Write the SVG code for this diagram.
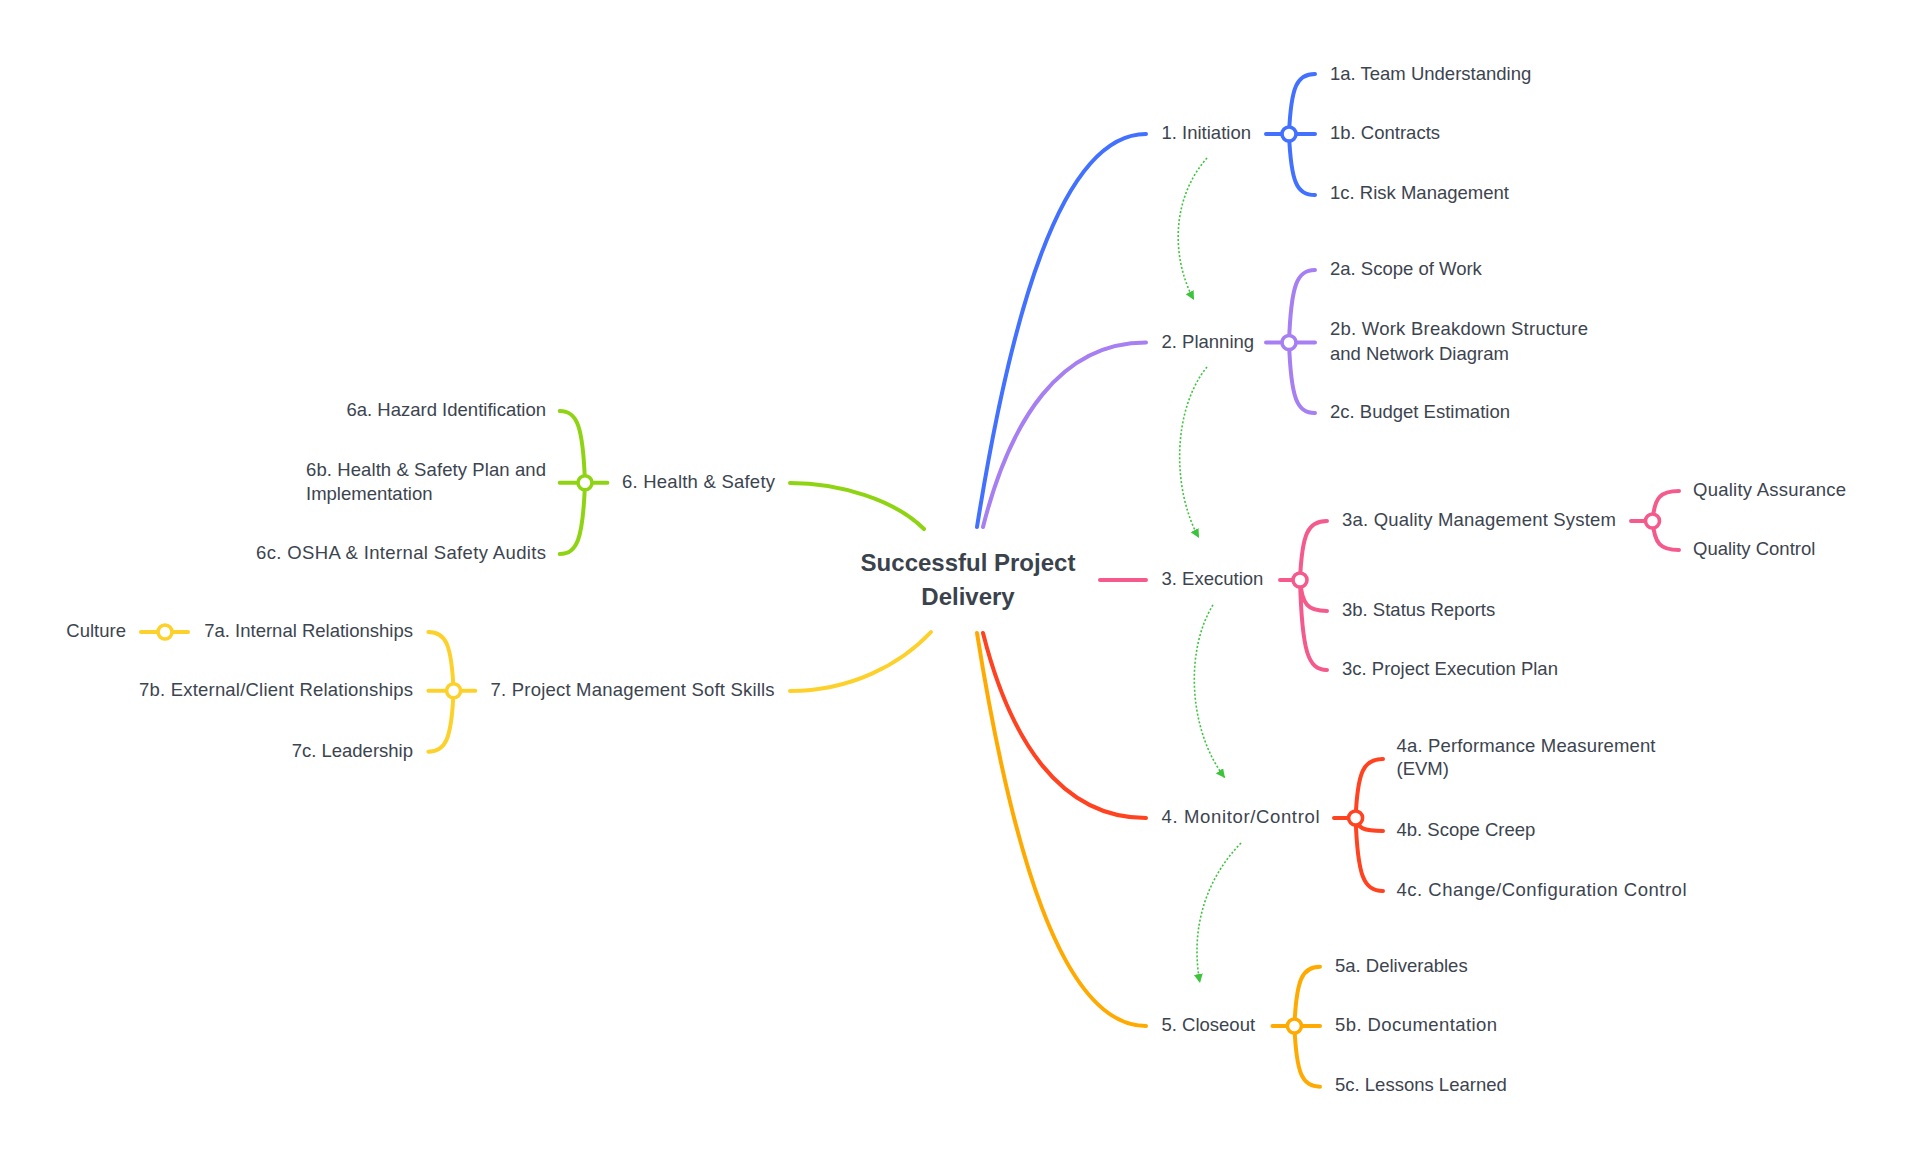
<svg xmlns="http://www.w3.org/2000/svg" width="1911" height="1162" viewBox="0 0 1911 1162">
<defs>
<style>
text{font-family:"Liberation Sans",Arial,sans-serif;font-size:18.5px;fill:#3c444f}
.title{font-size:24px;font-weight:bold;fill:#3a424c}
.r{text-anchor:end}
.c{fill:none;stroke-width:4;stroke-linecap:round}
.dot{fill:#fff;stroke-width:3.6}
.rel{fill:none;stroke:#3cc43c;stroke-width:1.6;stroke-dasharray:2 2}
.blue{stroke:#4270ff}.purple{stroke:#a67ff2}.pink{stroke:#f45b8c}.red{stroke:#ff4220}.orange{stroke:#ffaa00}.green{stroke:#8fd413}.yellow{stroke:#fdd12c}
</style>
<marker id="arr" markerUnits="userSpaceOnUse" markerWidth="10" markerHeight="10" refX="9" refY="4.5" orient="auto">
<path d="M0,0 L9,4.5 L0,9 z" fill="#3cc43c"/>
</marker>
</defs>
<rect width="1911" height="1162" fill="#fff"/>
<g id="connectors">
<path class="c blue" d="M977,527 C1010,320 1060,134 1146,134"/>
<path class="c purple" d="M983,527 C1010,420 1060,342.5 1146,342.5"/>
<path class="c pink" d="M1100,580 H1146"/>
<path class="c red" d="M983,633 C1010,740 1060,818 1146,818"/>
<path class="c orange" d="M977,633 C1010,840 1060,1026 1146,1026"/>
<path class="c green" d="M924,529 C895,500 840,483 790,483"/>
<path class="c yellow" d="M931,632 C900,665 850,691 790,691"/>
<path class="c blue" d="M1266,134 H1315 M1289,134 C1291,86 1297,74 1315,74 M1289,134 C1291,183 1297,195 1315,195"/>
<path class="c purple" d="M1266,342.5 H1315 M1289,342.5 C1291,284.5 1297,270 1315,270 M1289,342.5 C1291,399 1297,413 1315,413"/>
<path class="c pink" d="M1280,580 H1300 M1300,580 C1302,533 1308,521 1327,521 M1300,580 C1302,605 1308,611 1327,611 M1300,580 C1302,652 1308,670 1327,670"/>
<path class="c pink" d="M1631,521 H1652.5 M1652.5,521 C1654.5,497 1660.5,491 1679,491 M1652.5,521 C1654.5,544 1660.5,550 1679,550"/>
<path class="c red" d="M1334,818 H1355.6 M1355.6,818 C1357.6,771 1363.6,759 1383,759 M1355.6,818 C1357.6,828.4 1363.6,831 1383,831 M1355.6,818 C1357.6,876 1363.6,891 1383,891"/>
<path class="c orange" d="M1272.5,1026 H1320 M1294.4,1026 C1296.4,978.6 1302.4,966.7 1320,966.7 M1294.4,1026 C1296.4,1074.6 1302.4,1086.7 1320,1086.7"/>
<path class="c green" d="M559.7,482.7 H607.4 M585,482.7 C583,425.3 577,411 559.7,411 M585,482.7 C583,539.7 577,554 559.7,554"/>
<path class="c yellow" d="M428.4,690.7 H475.3 M453.6,690.7 C451.6,643.7 445.6,632 428.4,632 M453.6,690.7 C451.6,739.5 445.6,751.7 428.4,751.7"/>
<path class="c yellow" d="M141,632 H188"/>
<path class="rel" marker-end="url(#arr)" d="M1207,158 C1170,200 1172,260 1194,300"/>
<path class="rel" marker-end="url(#arr)" d="M1207,367 C1172,410 1172,490 1199,538"/>
<path class="rel" marker-end="url(#arr)" d="M1213,605 C1185,650 1188,730 1225,778"/>
<path class="rel" marker-end="url(#arr)" d="M1241,843 C1205,880 1190,930 1200,983"/>
</g>
<g id="center">
<text class="title" x="968" y="571" text-anchor="middle">Successful Project</text>
<text class="title" x="968" y="605" text-anchor="middle">Delivery</text>
</g>
<g id="n1">
<text x="1161.5" y="139">1. Initiation</text>
<circle class="dot blue" cx="1289" cy="134" r="7"/>
</g>
<g id="n1a"><text x="1330" y="79.5">1a. Team Understanding</text></g>
<g id="n1b"><text x="1330" y="139">1b. Contracts</text></g>
<g id="n1c"><text x="1330" y="199">1c. Risk Management</text></g>
<g id="n2">
<text x="1161.5" y="347.5">2. Planning</text>
<circle class="dot purple" cx="1289" cy="342.5" r="7"/>
</g>
<g id="n2a"><text x="1330" y="275">2a. Scope of Work</text></g>
<g id="n2b"><text x="1330" y="335" textLength="258">2b. Work Breakdown Structure</text><text x="1330" y="359.5">and Network Diagram</text></g>
<g id="n2c"><text x="1330" y="418">2c. Budget Estimation</text></g>
<g id="n3">
<text x="1161.5" y="585">3. Execution</text>
<circle class="dot pink" cx="1300" cy="580" r="7"/>
</g>
<g id="n3a">
<text x="1342" y="526" textLength="274">3a. Quality Management System</text>
<circle class="dot pink" cx="1652.5" cy="521" r="7"/>
</g>
<g id="n3a1"><text x="1693" y="496" textLength="153">Quality Assurance</text></g>
<g id="n3a2"><text x="1693" y="555">Quality Control</text></g>
<g id="n3b"><text x="1342" y="615.5">3b. Status Reports</text></g>
<g id="n3c"><text x="1342" y="675">3c. Project Execution Plan</text></g>
<g id="n4">
<text x="1161.5" y="823" textLength="158">4. Monitor/Control</text>
<circle class="dot red" cx="1355.6" cy="818" r="7"/>
</g>
<g id="n4a"><text x="1396.5" y="751.5" textLength="259">4a. Performance Measurement</text><text x="1396.5" y="775">(EVM)</text></g>
<g id="n4b"><text x="1396.5" y="836">4b. Scope Creep</text></g>
<g id="n4c"><text x="1396.5" y="895.5" textLength="290">4c. Change/Configuration Control</text></g>
<g id="n5">
<text x="1161.5" y="1031">5. Closeout</text>
<circle class="dot orange" cx="1294.4" cy="1026" r="7"/>
</g>
<g id="n5a"><text x="1335" y="971.5">5a. Deliverables</text></g>
<g id="n5b"><text x="1335" y="1031" textLength="162">5b. Documentation</text></g>
<g id="n5c"><text x="1335" y="1091">5c. Lessons Learned</text></g>
<g id="n6">
<text x="622" y="487.5" textLength="153">6. Health &amp; Safety</text>
<circle class="dot green" cx="585" cy="482.7" r="7"/>
</g>
<g id="n6a"><text class="r" x="546" y="416">6a. Hazard Identification</text></g>
<g id="n6b"><text x="306" y="475.5" textLength="240">6b. Health &amp; Safety Plan and</text><text x="306" y="500">Implementation</text></g>
<g id="n6c"><text class="r" x="546" y="559" textLength="290">6c. OSHA &amp; Internal Safety Audits</text></g>
<g id="n7">
<text x="490.6" y="695.5" textLength="284">7. Project Management Soft Skills</text>
<circle class="dot yellow" cx="453.6" cy="690.7" r="7"/>
</g>
<g id="n7a">
<text class="r" x="413" y="637">7a. Internal Relationships</text>
<circle class="dot yellow" cx="165" cy="632" r="7"/>
</g>
<g id="n7a1"><text class="r" x="126" y="637">Culture</text></g>
<g id="n7b"><text class="r" x="413" y="695.5" textLength="274">7b. External/Client Relationships</text></g>
<g id="n7c"><text class="r" x="413" y="756.5">7c. Leadership</text></g>
</svg>
